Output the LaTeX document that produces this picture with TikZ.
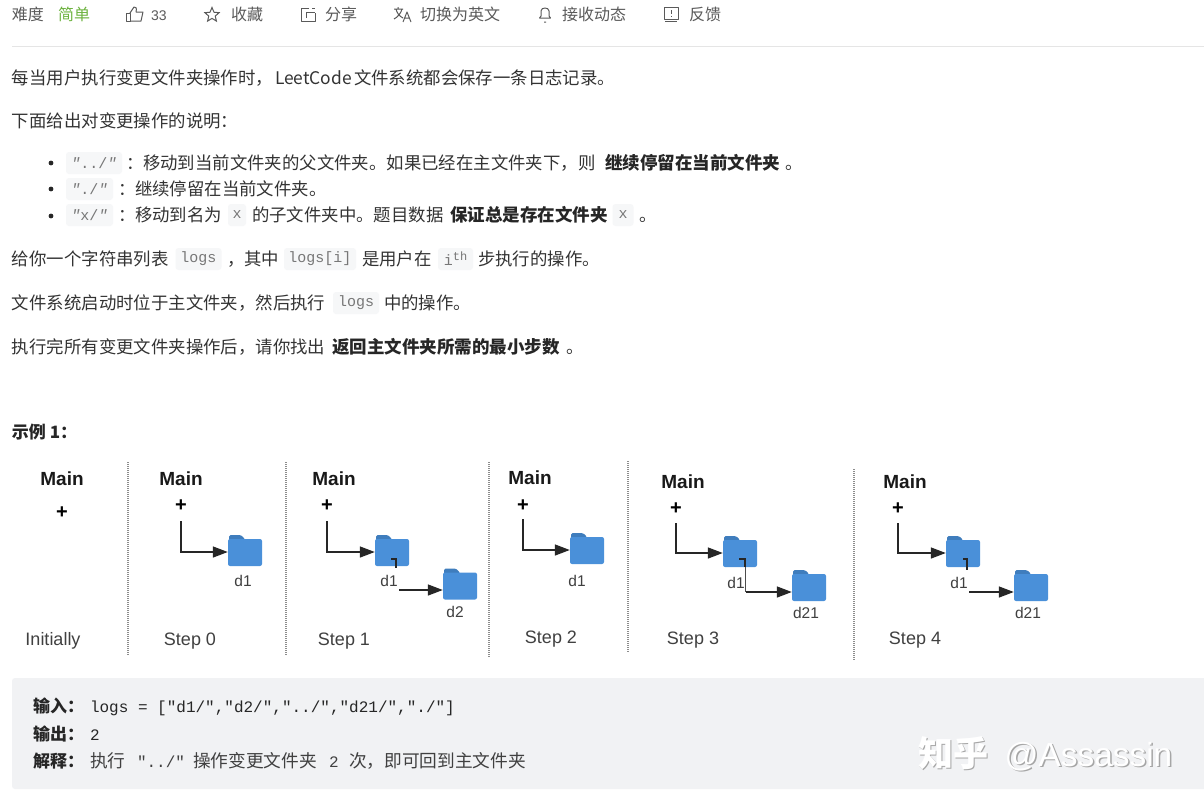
\documentclass[tikz,border=0pt]{standalone}
\usepackage{fontspec}
\usetikzlibrary{arrows.meta,shapes.geometric,calc}
\setmainfont{Noto Sans CJK SC}
\newfontfamily\dgm{Liberation Sans}
\newfontfamily\mno{Liberation Mono}
\definecolor{txt}{HTML}{333333}
\definecolor{bar}{HTML}{5A5A5A}
\definecolor{chipbg}{HTML}{F6F7F8}
\definecolor{chiptx}{HTML}{777777}
\definecolor{codebg}{HTML}{F1F2F4}
\definecolor{fold}{HTML}{4A90D9}
\definecolor{folddk}{HTML}{3F7DBD}
\definecolor{green1}{HTML}{6DB33F}
\tikzset{
  x=1pt,y=-1pt,
  tx/.style={anchor=base west,inner sep=0pt,outer sep=0pt,text=txt,font=\fontsize{17.4}{20}\selectfont},
  bd/.style={tx,font=\fontsize{17.5}{20}\selectfont\bfseries,text=black!85},
  br/.style={tx,font=\fontsize{16}{18}\selectfont,text=bar},
  cd/.style={tx,font=\fontsize{16}{18}\selectfont\mno,text=black!85},
  cn/.style={tx,font=\fontsize{17.7}{20}\selectfont,text=black!75},
  cb/.style={tx,font=\fontsize{17}{20}\selectfont\bfseries,text=black!85},
  chip/.style={fill=chipbg,rounded corners=3pt,inner sep=0pt,minimum height=22pt,text=chiptx,font=\fontsize{15}{17}\selectfont\mno},
  mainl/.style={inner sep=0pt,font=\fontsize{19}{21}\selectfont\dgm\bfseries,text=black!90},
  plusl/.style={inner sep=0pt,yshift=-2pt,font=\fontsize{20}{22}\selectfont\dgm\bfseries,text=black},
  stepl/.style={inner sep=0pt,xshift=-1pt,yshift=-2pt,font=\fontsize{18}{20}\selectfont\dgm,text=black!75},
  dl/.style={inner sep=0pt,font=\fontsize{15.5}{18}\selectfont\dgm,text=black!75},
  folderbox/.style={inner sep=0pt,minimum width=34pt,minimum height=31pt},
  link/.style={draw=black!85,line width=1.5pt,-{Triangle[length=15pt,width=11pt]}},
  tick/.style={draw=black!85,line width=1.2pt},
  thin tick/.style={draw=black!70,line width=.7pt},
  sep/.style={draw=black!45,line width=1.2pt,dash pattern=on 1pt off 1pt},
  ico/.style={draw=bar,line width=1pt,line join=round},
  wm/.style={inner sep=0pt,anchor=base west},
}
\newcommand{\FolderAt}[3]{%
  \node[folderbox] (#1) at (#2+17,#3+15.5) {};
  \fill[folddk,rounded corners=1.5pt] (#2+1,#3+6) -- (#2+1,#3) -- (#2+13,#3) -- (#2+17,#3+4) -- (#2+17,#3+6) -- cycle;
  \fill[fold,rounded corners=2pt] (#2,#3+4) rectangle (#2+34,#3+31);
}
\begin{document}
\begin{tikzpicture}
\useasboundingbox (0,0) rectangle (1204,803);
\fill[white] (0,0) rectangle (1204,803);
% top bar
\node[br] (nd) at (12,20) {难度};
\node[br,text=green1] (ea) at (58,20) {简单};
\draw[ico] (126,13) rectangle (130,21);
\draw[ico] (130,13) -- (134,7) .. controls (136,6.5) and (137,8) .. (136,12) -- (143,12) -- (141,21) -- (130,21);
\node[br,font=\fontsize{14}{16}\selectfont\dgm] (lk) at (151,20) {33};
\node[star,star points=5,star point ratio=2.2,draw=bar,line width=1pt,inner sep=0pt,minimum size=15pt] (st) at (212,15) {};
\node[br] (fav) at (231,20) {收藏};
\draw[ico] (309,8) -- (301,8) -- (301,21) -- (315,21) -- (315,13);
\draw[ico] (306,18) -- (306,12) -- (315,12) (312,8) -- (315,8);
\node[br] (sh) at (325,20) {分享};
\draw[ico] (394,9) -- (403,9) (398,7) -- (398,9) (396,9) .. controls (397,13) and (399,16) .. (403,18) (402,9) .. controls (401,13) and (398,17) .. (394,19);
\draw[ico] (403,22) -- (407,12) -- (411,22) (404.5,18) -- (409.5,18);
\node[br] (tr) at (420,20) {切换为英文};
\draw[ico] (539.5,18) -- (541,16) -- (541,11) .. controls (541,7) and (549,7) .. (549,11) -- (549,16) -- (550.5,18) -- cycle (544,22) -- (546,22);
\node[br] (sb) at (562,20) {接收动态};
\draw[ico] (664,7) rectangle (678,19);
\draw[ico] (665,21) -- (677,21) (671,10) -- (671,14) (671,15.5) -- (671,16.8);
\node[br] (fb) at (689,20) {反馈};
\draw[black!10,line width=1pt] (12,46) -- (1204,46);
% paragraphs
\node[tx] (p1a) at (12,84) {每当用户执行变更文件夹操作时，};
\node[tx] (p1b) at (275,84) {LeetCode};
\node[tx] (p1c) at (354,84) {文件系统都会保存一条日志记录。};
\node[tx] (p2) at (12,127) {下面给出对变更操作的说明：};
% bullets
\fill[black!85] (51,163) circle (2.4) (51,189) circle (2.4) (51,216) circle (2.4);
\node[chip,minimum width=56pt] (c1) at (94,163) {{\itshape"}../{\itshape"}};
\node[tx] (l1a) at (126,169) {：};
\node[tx] (l1b) at (143,169) {移动到当前文件夹的父文件夹。如果已经在主文件夹下，则};
\node[bd] (l1c) at (605,169) {继续停留在当前文件夹};
\node[tx] (l1d) at (785,169) {。};
\node[chip,minimum width=47pt] (c2) at (89.5,189) {{\itshape"}./{\itshape"}};
\node[tx] (l2a) at (118,195) {：};
\node[tx] (l2b) at (135,195) {继续停留在当前文件夹。};
\node[chip,minimum width=47pt] (c3) at (89.5,215) {{\itshape"}x/{\itshape"}};
\node[tx] (l3a) at (118,221) {：};
\node[tx] (l3b) at (135,221) {移动到名为};
\node[chip,minimum width=18pt] (c4) at (237,215) {x};
\node[tx] (l3c) at (252,221) {的子文件夹中。题目数据};
\node[bd] (l3d) at (450,221) {保证总是存在文件夹};
\node[chip,minimum width=21pt] (c5) at (623,215) {x};
\node[tx] (l3e) at (639,221) {。};
% logs
\node[tx] (m1a) at (12,265) {给你一个字符串列表};
\node[chip,minimum width=46pt] (c6) at (198.5,259) {logs};
\node[tx] (m1b) at (227,265) {，};
\node[tx] (m1c) at (244,265) {其中};
\node[chip,minimum width=72pt] (c7) at (320,259) {logs[i]};
\node[tx] (m1d) at (362,265) {是用户在};
\node[chip,minimum width=35pt] (c8) at (455.5,259) {i\raisebox{5pt}{\fontsize{12}{13}\selectfont th}};
\node[tx] (m1e) at (478,265) {步执行的操作。};
\node[tx] (m2a) at (12,309) {文件系统启动时位于主文件夹，然后执行};
\node[chip,minimum width=46pt] (c9) at (356,303) {logs};
\node[tx] (m2b) at (384,309) {中的操作。};
\node[tx] (m3a) at (12,353) {执行完所有变更文件夹操作后，请你找出};
\node[bd] (m3b) at (332,353) {返回主文件夹所需的最小步数};
\node[tx] (m3c) at (566,353) {。};
\node[bd,font=\fontsize{17}{20}\selectfont\bfseries] (ex) at (12,438) {示例 1：};
% dividers
\draw[sep] (128,462) -- (128,655);
\draw[sep] (286,462) -- (286,655);
\draw[sep] (489,462) -- (489,657);
\draw[sep] (628,461) -- (628,653);
\draw[sep] (854,469) -- (854,661);
% Initially
\node[mainl] (ma) at (62,479) {Main};
\node[plusl] (pa) at (62,511) {+};
\node[stepl] (sa) at (54,639) {Initially};
% Step 0
\node[mainl] (mb) at (181,479) {Main};
\node[plusl] (pb) at (181,504) {+};
\FolderAt{fb1}{228}{535}
\coordinate (sb1) at (181,521);
\draw[link] (sb1) |- ([yshift=-1.5pt]fb1.west);
\node[dl] (db1) at (243,581) {d1};
\node[stepl] (sb) at (191,639) {Step 0};
% Step 1
\node[mainl] (mc) at (334,479) {Main};
\node[plusl] (pc) at (327,504) {+};
\FolderAt{fc1}{375}{535}
\FolderAt{fc2}{443}{568.5}
\coordinate (sc1) at (327,521);
\draw[link] (sc1) |- ([yshift=-1.5pt]fc1.west);
\coordinate (tc1) at (391,559); \coordinate (tc2) at (396,568);
\draw[tick] (tc1) -| (tc2);
\coordinate (sc2) at (399,590);
\draw[link] (sc2) -- (sc2 -| fc2.west);
\node[dl] (dc1) at (389,581) {d1};
\node[dl] (dc2) at (455,612) {d2};
\node[stepl] (sc) at (345,639) {Step 1};
% Step 2
\node[mainl] (md) at (530,478) {Main};
\node[plusl] (pd) at (523,504) {+};
\FolderAt{fd1}{570}{533}
\coordinate (sd1) at (523,519);
\draw[link] (sd1) |- ([yshift=-1.5pt]fd1.west);
\node[dl] (dd1) at (577,581) {d1};
\node[stepl] (sd) at (552,637) {Step 2};
% Step 3
\node[mainl] (me) at (683,482) {Main};
\node[plusl] (pe) at (676,507) {+};
\FolderAt{fe1}{723}{536}
\FolderAt{fe2}{792}{570}
\coordinate (se1) at (676,523);
\draw[link] (se1) |- ([yshift=-1.5pt]fe1.west);
\coordinate (te1) at (739,559); \coordinate (te2) at (745,567);
\draw[tick] (te1) -| (te2);
\coordinate (se2) at (745.5,567);
\coordinate (se3) at (745.5,592);
\draw[thin tick] (se2) -- (se3);
\draw[link] (se3) -- (se3 -| fe2.west);
\node[dl] (de1) at (736,583) {d1};
\node[dl] (de2) at (806,613) {d21};
\node[stepl] (se) at (694,638) {Step 3};
% Step 4
\node[mainl] (mf) at (905,482) {Main};
\node[plusl] (pf) at (898,507) {+};
\FolderAt{ff1}{946}{536}
\FolderAt{ff2}{1014}{570}
\coordinate (sf1) at (898,523);
\draw[link] (sf1) |- ([yshift=-1.5pt]ff1.west);
\coordinate (tf1) at (963,559); \coordinate (tf2) at (967,570);
\draw[tick] (tf1) -| (tf2);
\coordinate (sf2) at (969,592);
\draw[link] (sf2) -- (sf2 -| ff2.west);
\node[dl] (df1) at (959,583) {d1};
\node[dl] (df2) at (1028,613) {d21};
\node[stepl] (sf) at (916,638) {Step 4};
% code block
\fill[codebg,rounded corners=3pt] (12,678) rectangle (1215,789);
\node[cb] (k1) at (33,712) {输入：};
\node[cd] (k1v) at (90,712) {logs = ["d1/","d2/","../","d21/","./"]};
\node[cb] (k2) at (33,740) {输出：};
\node[cd] (k2v) at (90,740) {2};
\node[cb] (k3) at (33,767) {解释：};
\node[cn] (k3a) at (90,767) {执行};
\node[cd,text=black!75] (k3b) at (137,767) {"../"};
\node[cn] (k3c) at (193,767) {操作变更文件夹};
\node[cd,text=black!75] (k3d) at (329,767) {2};
\node[cn] (k3e) at (349,767) {次，即可回到主文件夹};
% watermark
\node[wm,text=black!35,font=\fontsize{35}{37}\selectfont\bfseries] (w1s) at (919.5,767.5) {知乎};
\node[wm,text=white,font=\fontsize{35}{37}\selectfont\bfseries] (w1) at (918,766) {知乎};
\node[wm,text=black!35,font=\fontsize{33.4}{36}\selectfont\dgm] (w2s) at (1006,767.5) {@Assassin};
\node[wm,text=white,font=\fontsize{33.4}{36}\selectfont\dgm] (w2) at (1004.5,766) {@Assassin};
\end{tikzpicture}
\end{document}
